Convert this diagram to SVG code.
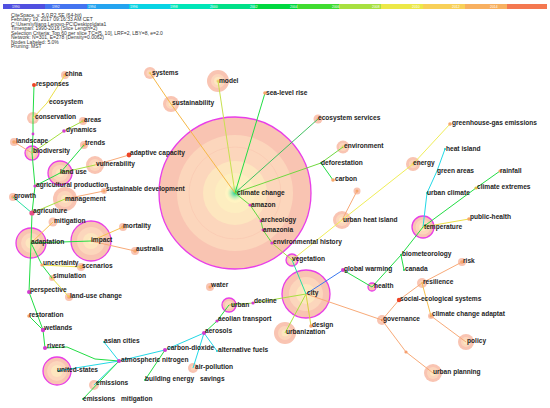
<svg xmlns="http://www.w3.org/2000/svg" width="550" height="408" viewBox="0 0 550 408">
<style>
.t{font-family:"Liberation Sans",Arial,sans-serif;font-size:6.6px;font-weight:bold;fill:#1e1e1e}
.h{font-family:"Liberation Sans",Arial,sans-serif;font-size:5px;fill:#333}
.yl{font-family:"Liberation Sans",Arial,sans-serif;font-size:3.4px;fill:#fff}
.c1{fill:#f9c4b2}
.c2{fill:#fcd6bc}
.c3{fill:#fde6bf}
.cy{fill:#f2d070}
.hub{fill:none;stroke:#e83ee8;stroke-width:1.3}
.d{fill:#f5a66a}
.m{fill:#d23cd2}
.rd{fill:#ee4426}
#edges path{fill:none;stroke-width:1}
.g{stroke:#22dd44}.c{stroke:#22d8e6}.y{stroke:#ece048}.o{stroke:#f8aa78}.yg{stroke:#a6e040}.b{stroke:#3a78f0}.gc{stroke:#26e0a0}.yo{stroke:#f6c050}
</style>
<defs>
<radialGradient id="glow"><stop offset="0" stop-color="#20d090"/><stop offset="1" stop-color="#a0f0c0" stop-opacity="0"/></radialGradient>
</defs>
<rect width="550" height="408" fill="#fff"/>
<g id="timeline">
<rect x="3" y="4" width="42" height="5" fill="#5050e0"/>
<rect x="45" y="4" width="42" height="5" fill="#4474f0"/>
<rect x="87" y="4" width="42" height="5" fill="#24a4f0"/>
<rect x="129" y="4" width="42" height="5" fill="#08d4e4"/>
<rect x="171" y="4" width="42" height="5" fill="#00e6b8"/>
<rect x="213" y="4" width="42" height="5" fill="#00e088"/>
<rect x="255" y="4" width="42" height="5" fill="#00d840"/>
<rect x="297" y="4" width="42" height="5" fill="#40dc30"/>
<rect x="339" y="4" width="42" height="5" fill="#a8e040"/>
<rect x="381" y="4" width="42" height="5" fill="#ece848"/>
<rect x="423" y="4" width="42" height="5" fill="#f8d058"/>
<rect x="465" y="4" width="42" height="5" fill="#f8b060"/>
<rect x="507" y="4" width="40" height="5" fill="#f47850"/>
<text class="yl" x="12" y="7.7">1990</text><text class="yl" x="52" y="7.7">1992</text><text class="yl" x="88" y="7.7">1994</text><text class="yl" x="130" y="7.7">1996</text><text class="yl" x="170" y="7.7">1998</text><text class="yl" x="210" y="7.7">2000</text><text class="yl" x="250" y="7.7">2002</text><text class="yl" x="290" y="7.7">2004</text><text class="yl" x="332" y="7.7">2006</text><text class="yl" x="372" y="7.7">2008</text><text class="yl" x="412" y="7.7">2010</text><text class="yl" x="452" y="7.7">2012</text><text class="yl" x="490" y="7.7">2014</text>
</g>
<g id="header">
<text class="h" x="11" y="16.5">CiteSpace, v. 5.0.R2.SE (64-bit)</text>
<text class="h" x="11" y="21">February 19, 2017 09:16:33 AM CET</text>
<text class="h" x="11" y="25.5">C:\Users\yfjiang.Lenovo-PC\Desktop\data1</text>
<text class="h" x="11" y="30">Timespan: 1990-2016 (Slice Length=2)</text>
<text class="h" x="11" y="34.5">Selection Criteria: Top 60 per slice TC=[5, 10], LRF=2, LBY=8, e=2.0</text>
<text class="h" x="11" y="39">Network: N=301, E=278 (Density=0.0062)</text>
<text class="h" x="11" y="43.5">Nodes Labeled: 5.0%</text>
<text class="h" x="11" y="48">Pruning: MST</text>
</g>
<g id="n-climate-change">
<circle cx="235" cy="193" r="76" class="c1"/>
<circle cx="235" cy="193" r="58" class="c2"/>
<circle cx="235" cy="193" r="46" fill="none" stroke="#f9c8b2" stroke-width="0.7"/>
<circle cx="235" cy="193" r="32" class="c3"/>
<circle cx="235" cy="193" r="20" fill="#fdeec0"/>
<circle cx="235" cy="193" r="10" fill="#fff4c2"/>
<circle cx="235" cy="193" r="8" fill="url(#glow)"/>
<circle cx="235" cy="193" r="76" class="hub" stroke-width="1.6"/>
</g>
<g id="n-model"><circle cx="218" cy="81" r="11" class="c1"/><circle cx="218" cy="81" r="7" class="c2"/><circle cx="218" cy="81" r="4" class="c3"/><circle cx="218" cy="81" r="1.5" class="cy"/></g>
<g id="n-systems"><circle cx="150" cy="73" r="6" class="c1"/><circle cx="150" cy="73" r="3.5" class="c2"/><circle cx="150" cy="73" r="1.3" class="cy"/></g>
<g id="n-sustainability"><circle cx="171" cy="104" r="8" class="c1"/><circle cx="171" cy="104" r="5" class="c2"/><circle cx="171" cy="104" r="2.5" class="c3"/></g>
<g id="n-ecosystem-services"><circle cx="318" cy="119" r="4.5" class="c1"/><circle cx="318" cy="119" r="1.5" class="d"/></g>
<g id="n-environment"><circle cx="343" cy="147" r="6.5" class="c1"/><circle cx="343" cy="147" r="4" class="c2"/><circle cx="343" cy="147" r="1.4" class="cy"/></g>
<g id="n-small-a"><circle cx="357" cy="191" r="3.5" class="c1"/><circle cx="357" cy="191" r="1.5" class="d"/></g>
<g id="n-energy"><circle cx="413" cy="164" r="7" class="c1"/><circle cx="413" cy="164" r="4.2" class="c2"/><circle cx="413" cy="164" r="1.5" class="cy"/></g>
<g id="n-urban-heat-island"><circle cx="342" cy="220" r="9" class="c1"/><circle cx="342" cy="220" r="6" class="c2"/><circle cx="342" cy="220" r="3" class="c3"/></g>
<g id="n-temperature"><circle cx="423" cy="227" r="11" class="c1"/><circle cx="423" cy="227" r="7.5" class="c2"/><circle cx="423" cy="227" r="4" class="c3"/><circle cx="423" cy="227" r="11" class="hub"/></g>
<g id="n-risk"><circle cx="462" cy="262" r="4" class="c1"/><circle cx="462" cy="262" r="1.8" class="d"/></g>
<g id="n-resilience"><circle cx="422" cy="283" r="5" class="c1"/><circle cx="422" cy="283" r="2.5" class="c2"/><circle cx="422" cy="283" r="1.2" class="cy"/></g>
<g id="n-climate-change-adaptat"><circle cx="431" cy="316" r="3" class="c1"/><circle cx="431" cy="316" r="1.5" class="d"/></g>
<g id="n-governance"><circle cx="382" cy="320" r="5" class="c1"/><circle cx="382" cy="320" r="2.5" class="c2"/><circle cx="382" cy="320" r="1.2" fill="#e06030"/></g>
<g id="n-policy"><circle cx="466" cy="342" r="8" class="c1"/><circle cx="466" cy="342" r="5" class="c2"/><circle cx="466" cy="342" r="2.5" class="c3"/></g>
<g id="n-urban-planning"><circle cx="433" cy="373" r="9" class="c1"/><circle cx="433" cy="373" r="6" class="c2"/><circle cx="433" cy="373" r="3" class="c3"/></g>
<g id="n-city"><circle cx="306" cy="294" r="24" class="c1"/><circle cx="306" cy="294" r="17" class="c2"/><circle cx="306" cy="294" r="10" class="c3"/><circle cx="306" cy="294" r="4" fill="#fdf0c0"/><circle cx="306" cy="294" r="24" class="hub"/></g>
<g id="n-vegetation"><circle cx="292" cy="260" r="6" class="c1"/><circle cx="292" cy="260" r="3.5" class="c2"/><circle cx="292" cy="260" r="6" class="hub"/></g>
<g id="n-urbanization"><circle cx="285" cy="333" r="11" class="c1"/><circle cx="285" cy="333" r="7" class="c2"/><circle cx="285" cy="333" r="3.5" class="c3"/></g>
<g id="n-water"><circle cx="210" cy="287" r="4" class="c1"/><circle cx="210" cy="287" r="1.6" class="d"/></g>
<g id="n-urban"><circle cx="229" cy="305" r="7" class="c1"/><circle cx="229" cy="305" r="4" class="c2"/><circle cx="229" cy="305" r="7" class="hub"/></g>
<g id="n-air-pollution"><circle cx="193" cy="368" r="5" class="c1"/><circle cx="193" cy="368" r="2.5" class="c2"/></g>
<g id="n-united-states"><circle cx="57" cy="371" r="14" class="c1"/><circle cx="57" cy="371" r="10" class="c2"/><circle cx="57" cy="371" r="6" class="c3"/><circle cx="57" cy="371" r="14" class="hub"/></g>
<g id="n-emissions"><circle cx="94" cy="385" r="5" class="c1"/><circle cx="94" cy="385" r="2.5" class="c2"/></g>
<g id="n-land-use-change"><circle cx="69" cy="297" r="4" class="c1"/><circle cx="69" cy="297" r="1.8" class="d"/></g>
<g id="n-simulation"><circle cx="52" cy="278" r="3" class="c1"/><circle cx="52" cy="278" r="1.4" class="d"/></g>
<g id="n-scenarios"><circle cx="81" cy="267" r="4" class="c1"/><circle cx="81" cy="267" r="2" class="d"/></g>
<g id="n-adaptation"><circle cx="31" cy="243" r="15" class="c1"/><circle cx="31" cy="243" r="10" class="c2"/><circle cx="31" cy="243" r="5.5" class="c3"/><circle cx="31" cy="243" r="15" class="hub"/></g>
<g id="n-mitigation"><circle cx="53" cy="222" r="4.5" class="c1"/><circle cx="53" cy="222" r="2" class="c2"/></g>
<g id="n-impact"><circle cx="91" cy="241" r="20" class="c1"/><circle cx="91" cy="241" r="14" class="c2"/><circle cx="91" cy="241" r="8" class="c3"/><circle cx="91" cy="241" r="3" fill="#fdf0c0"/><circle cx="91" cy="241" r="20" class="hub"/></g>
<g id="n-mortality"><circle cx="123" cy="227" r="4" class="c1"/><circle cx="123" cy="227" r="1.8" class="d"/></g>
<g id="n-australia"><circle cx="135" cy="251" r="4" class="c1"/><circle cx="135" cy="251" r="1.8" class="d"/></g>
<g id="n-growth"><circle cx="13" cy="197" r="4" class="c1"/><circle cx="13" cy="197" r="1.8" class="d"/></g>
<g id="n-management"><circle cx="65" cy="199" r="12" class="c1"/><circle cx="65" cy="199" r="8" class="c2"/><circle cx="65" cy="199" r="4" class="c3"/></g>
<g id="n-sustainable-development"><circle cx="104" cy="191" r="3" class="c1"/><circle cx="104" cy="191" r="1.5" class="d"/></g>
<g id="n-land-use"><circle cx="60" cy="173" r="12" class="c1"/><circle cx="60" cy="173" r="8" class="c2"/><circle cx="60" cy="173" r="4" class="c3"/><circle cx="60" cy="173" r="12" class="hub"/></g>
<g id="n-vulnerability"><circle cx="95" cy="165" r="9" class="c1"/><circle cx="95" cy="165" r="6" class="c2"/><circle cx="95" cy="165" r="3" class="c3"/></g>
<g id="n-trends"><circle cx="84" cy="145" r="4" class="c1"/><circle cx="84" cy="145" r="1.8" class="d"/></g>
<g id="n-biodiversity"><circle cx="32" cy="153" r="7" class="c1"/><circle cx="32" cy="153" r="4" class="c2"/><circle cx="32" cy="153" r="7" class="hub"/></g>
<g id="n-landscape"><circle cx="14" cy="142" r="4" class="c1"/><circle cx="14" cy="142" r="1.8" class="d"/></g>
<g id="n-areas"><circle cx="83" cy="121" r="4" class="c1"/><circle cx="83" cy="121" r="1.8" class="d"/></g>
<g id="n-conservation"><circle cx="33" cy="118" r="6" class="c1"/><circle cx="33" cy="118" r="3.5" class="c2"/></g>
<g id="n-china"><circle cx="65" cy="75" r="4" class="c1"/><circle cx="65" cy="75" r="1.8" class="d"/></g>
<g id="n-health"><circle cx="372" cy="287" r="4" class="c1"/><circle cx="372" cy="287" r="4" class="hub"/></g>

<g id="edges">
<path class="g" d="M34,85L33,118"/>
<path class="y" d="M33,118L47,103L65,75"/>
<path class="g" d="M33,118L33,134L32,153"/>
<path class="o" d="M14,142L32,153"/>
<path class="yg" d="M32,153L64,131L83,121"/>
<path class="g" d="M32,153L35,186"/>
<path class="g" d="M60,173L35,186"/>
<path class="g" d="M60,173L84,145"/>
<path class="yg" d="M60,173L95,165"/>
<path class="o" d="M95,165L129,155"/>
<path class="g" d="M35,186L32,213"/>
<path class="gc" d="M13,197L32,213"/>
<path class="yg" d="M65,199L32,213"/>
<path class="o" d="M104,191L65,199"/>
<path class="g" d="M32,213L31,243"/>
<path class="yo" d="M31,243L53,222"/>
<path class="g" d="M31,243L91,241"/>
<path class="yo" d="M91,241L123,227"/>
<path class="o" d="M91,241L135,251"/>
<path class="g" d="M31,243L42,265"/>
<path class="y" d="M42,265L81,267"/>
<path class="g" d="M42,265L52,278"/>
<path class="y" d="M52,278L69,297"/>
<path class="g" d="M31,243L29,292"/>
<path class="g" d="M29,292L43,330"/>
<path class="g" d="M29,316L43,330"/>
<path class="g" d="M43,330L45,348"/>
<path class="g" d="M45,348L67,347L95,359L119,361"/>
<path class="c" d="M119,361L57,371"/>
<path class="c" d="M119,361L104,342"/>
<path class="c" d="M119,361L94,385"/>
<path class="g" d="M119,361L83,399"/>
<path class="c" d="M119,361L165,350"/>
<path class="g" d="M165,350L145,380"/>
<path class="c" d="M165,350L204,333"/>
<path class="c" d="M204,333L217,351"/>
<path class="c" d="M204,333L193,368"/>
<path class="g" d="M204,333L217,321"/>
<path class="g" d="M217,321L229,305"/>
<path class="yg" d="M229,305L253,303"/>
<path class="yg" d="M253,303L306,294"/>
<path class="yg" d="M306,294L285,333"/>
<path stroke="#d8d040" d="M306,294L311,326"/>
<path class="gc" d="M306,294L292,260"/>
<path class="b" d="M306,294L343,270"/>
<path class="g" d="M343,270L372,287"/>
<path class="g" d="M372,287L401,255"/>
<path class="g" d="M401,255L404,270"/>
<path class="g" d="M401,255L423,227"/>
<path class="c" d="M423,227L427,193"/>
<path class="c" d="M427,193L437,171L445,149"/>
<path class="g" d="M423,227L476,188"/>
<path class="g" d="M476,188L500,171"/>
<path class="y" d="M423,227L469,219"/>
<path class="o" d="M306,294L382,320"/>
<path class="o" d="M382,320L399,300"/>
<path class="o" d="M399,300L422,283"/>
<path class="o" d="M422,283L462,262"/>
<path class="yo" d="M422,283L431,316"/>
<path class="o" d="M431,316L466,342"/>
<path class="o" d="M382,320L406,352L433,373"/>
<path stroke="#f0ee58" d="M292,260L342,220L413,164L450,124"/>
<path class="o" d="M342,220L357,191"/>
<path class="yg" d="M292,260L272,243"/>
<path stroke="#60d840" d="M272,243L263,230L261,221L250,205L235,193"/>
<path stroke="#c8e050" d="M235,193L218,81"/>
<path stroke="#f6b848" d="M235,193L171,104L150,73"/>
<path class="g" d="M235,193L265,93"/>
<path stroke="#40c060" d="M235,193L318,119"/>
<path stroke="#70d840" d="M235,193L321,163L343,147"/>
<path class="g" d="M321,163L333,180"/>
</g>

<g id="n-dots">
<circle cx="265" cy="93" r="1.8" class="d"/>
<circle cx="321" cy="163" r="1" fill="#30c050"/>
<circle cx="333" cy="180" r="1.8" class="d"/>
<circle cx="450" cy="124" r="1.8" class="d"/>
<circle cx="445" cy="149" r="1" fill="#20c8c8"/>
<circle cx="427" cy="193" r="1" fill="#20c8c8"/>
<circle cx="500" cy="171" r="1.6" class="d"/>
<circle cx="476" cy="188" r="1.6" fill="#e0c040"/>
<circle cx="469" cy="219" r="1.8" class="d"/>
<circle cx="401" cy="255" r="1" fill="#20c860"/>
<circle cx="404" cy="270" r="1" fill="#20c860"/>
<circle cx="399" cy="300" r="2.2" class="rd"/>
<circle cx="406" cy="352" r="1.6" fill="#f6a070"/>
<circle cx="343" cy="270" r="2" class="m"/>
<circle cx="272" cy="243" r="1.6" class="m"/>
<circle cx="263" cy="230" r="1.4" class="m"/>
<circle cx="261" cy="221" r="1.4" class="m"/>
<circle cx="250" cy="205" r="1.6" class="m"/>
<circle cx="311" cy="326" r="1.8" class="d"/>
<circle cx="253" cy="303" r="1.6" class="m"/>
<circle cx="217" cy="321" r="1.6" class="m"/>
<circle cx="204" cy="333" r="2" class="m"/>
<circle cx="165" cy="350" r="2" class="m"/>
<circle cx="217" cy="351" r="1" fill="#20c8d8"/>
<circle cx="145" cy="380" r="1" fill="#20c860"/>
<circle cx="119" cy="361" r="2" class="m"/>
<circle cx="104" cy="342" r="1" fill="#20c8d8"/>
<circle cx="83" cy="399" r="1" fill="#20c860"/>
<circle cx="45" cy="348" r="2" class="m"/>
<circle cx="43" cy="330" r="2.2" class="m"/>
<circle cx="29" cy="316" r="1.8" class="d"/>
<circle cx="29" cy="292" r="2" class="m"/>
<circle cx="42" cy="265" r="1.6" class="d"/>
<circle cx="32" cy="213" r="2.6" fill="#e8508a"/>
<circle cx="35" cy="186" r="1.6" class="m"/>
<circle cx="129" cy="155" r="2.4" class="rd"/>
<circle cx="64" cy="131" r="1.8" class="m"/>
<circle cx="33" cy="134" r="1.4" class="m"/>
<circle cx="34" cy="85" r="2" class="rd"/>
</g>

<g id="labels">
<text class="t" x="237" y="195.4">climate change</text>
<text class="t" x="219" y="83.4">model</text>
<text class="t" x="266" y="95.4">sea-level rise</text>
<text class="t" x="152" y="75.4">systems</text>
<text class="t" x="172" y="105.4">sustainability</text>
<text class="t" x="318" y="120.4">ecosystem services</text>
<text class="t" x="344" y="148.4">environment</text>
<text class="t" x="321" y="165.4">deforestation</text>
<text class="t" x="335" y="181.4">carbon</text>
<text class="t" x="452" y="125.4">greenhouse-gas emissions</text>
<text class="t" x="413" y="165.4">energy</text>
<text class="t" x="446" y="151.4">heat island</text>
<text class="t" x="437" y="173.4">green areas</text>
<text class="t" x="427" y="195.4">urban climate</text>
<text class="t" x="500" y="173.4">rainfall</text>
<text class="t" x="477" y="189.4">climate extremes</text>
<text class="t" x="343" y="222.4">urban heat island</text>
<text class="t" x="424" y="229.4">temperature</text>
<text class="t" x="470" y="219.4">public-health</text>
<text class="t" x="402" y="256.4">biometeorology</text>
<text class="t" x="405" y="271.4">canada</text>
<text class="t" x="463" y="263.4">risk</text>
<text class="t" x="423" y="284.4">resilience</text>
<text class="t" x="400" y="301.4">social-ecological systems</text>
<text class="t" x="432" y="316.4">climate change adaptat</text>
<text class="t" x="383" y="321.4">governance</text>
<text class="t" x="467" y="343.4">policy</text>
<text class="t" x="433" y="374.4">urban planning</text>
<text class="t" x="374" y="288.4">health</text>
<text class="t" x="344" y="271.4">global warming</text>
<text class="t" x="307" y="295.4">city</text>
<text class="t" x="292" y="261.4">vegetation</text>
<text class="t" x="273" y="244.4">environmental history</text>
<text class="t" x="263" y="232.4">amazonia</text>
<text class="t" x="261" y="222.4">archeology</text>
<text class="t" x="251" y="207.4">amazon</text>
<text class="t" x="312" y="327.4">design</text>
<text class="t" x="286" y="334.4">urbanization</text>
<text class="t" x="254" y="303.4">decline</text>
<text class="t" x="211" y="287.4">water</text>
<text class="t" x="231" y="307.4">urban</text>
<text class="t" x="218" y="321.4">aeolian transport</text>
<text class="t" x="205" y="333.4">aerosols</text>
<text class="t" x="167" y="350.4">carbon-dioxide</text>
<text class="t" x="218" y="352.4">alternative fuels</text>
<text class="t" x="195" y="369.4">air-pollution</text>
<text class="t" x="145" y="381.4">building energy</text>
<text class="t" x="200" y="381.4">savings</text>
<text class="t" x="121" y="362.4">atmospheric nitrogen</text>
<text class="t" x="104" y="343.4">asian cities</text>
<text class="t" x="57" y="372.4">united-states</text>
<text class="t" x="96" y="385.4">emissions</text>
<text class="t" x="83" y="401.4">emissions</text>
<text class="t" x="121" y="401.4">mitigation</text>
<text class="t" x="47" y="348.4">rivers</text>
<text class="t" x="44" y="330.4">wetlands</text>
<text class="t" x="29" y="317.4">restoration</text>
<text class="t" x="30" y="292.4">perspective</text>
<text class="t" x="70" y="298.4">land-use change</text>
<text class="t" x="53" y="278.4">simulation</text>
<text class="t" x="43" y="265.4">uncertainty</text>
<text class="t" x="82" y="268.4">scenarios</text>
<text class="t" x="31" y="244.4">adaptation</text>
<text class="t" x="54" y="223.4">mitigation</text>
<text class="t" x="91" y="242.4">impact</text>
<text class="t" x="123" y="228.4">mortality</text>
<text class="t" x="136" y="251.4">australia</text>
<text class="t" x="33" y="213.4">agriculture</text>
<text class="t" x="14" y="198.4">growth</text>
<text class="t" x="65" y="201.4">management</text>
<text class="t" x="106" y="191.4">sustainable development</text>
<text class="t" x="36" y="187.4">agricultural production</text>
<text class="t" x="60" y="174.4">land use</text>
<text class="t" x="96" y="166.4">vulnerability</text>
<text class="t" x="130" y="155.4">adaptive capacity</text>
<text class="t" x="85" y="145.4">trends</text>
<text class="t" x="33" y="153.4">biodiversity</text>
<text class="t" x="16" y="143.4">landscape</text>
<text class="t" x="66" y="132.4">dynamics</text>
<text class="t" x="84" y="122.4">areas</text>
<text class="t" x="35" y="119.4">conservation</text>
<text class="t" x="49" y="104.4">ecosystem</text>
<text class="t" x="36" y="86.4">responses</text>
<text class="t" x="65" y="76.4">china</text>
</g>
</svg>
